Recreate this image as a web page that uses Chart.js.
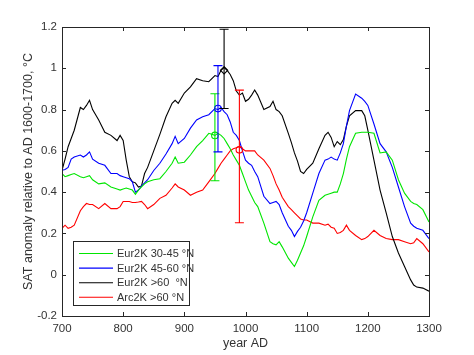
<!DOCTYPE html>
<html>
<head>
<meta charset="utf-8">
<script src="https://cdn.jsdelivr.net/npm/chart.js@4/dist/chart.umd.min.js"></script>
<style>
  html, body { margin: 0; padding: 0; background: #fff; }
  #wrap { width: 474px; height: 355px; }
</style>
</head>
<body>
<div id="wrap"><canvas id="c" width="474" height="355"></canvas></div>
<script>
// ---- data ----
const years = [700,705,710,715,720,730,735,740,745,750,760,770,780,790,795,800,805,810,815,820,825,830,835,840,850,860,870,880,885,890,900,910,920,930,940,950,955,960,965,970,975,980,985,990,995,1000,1005,1010,1015,1020,1030,1040,1045,1050,1055,1060,1070,1075,1080,1085,1090,1095,1100,1110,1120,1130,1135,1140,1145,1150,1155,1160,1165,1170,1180,1190,1195,1200,1210,1220,1230,1240,1250,1260,1270,1275,1280,1290,1300];

const eurNorth = [0.506,0.56,0.62,0.66,0.70,0.81,0.80,0.82,0.845,0.80,0.75,0.69,0.675,0.65,0.675,0.65,0.555,0.475,0.45,0.445,0.425,0.43,0.49,0.52,0.60,0.68,0.765,0.83,0.845,0.83,0.88,0.91,0.95,0.94,0.935,0.965,0.96,0.99,1.005,0.99,0.97,0.94,0.89,0.87,0.88,0.84,0.85,0.87,0.895,0.87,0.80,0.815,0.84,0.80,0.79,0.77,0.685,0.64,0.59,0.55,0.50,0.49,0.51,0.54,0.61,0.675,0.69,0.665,0.62,0.645,0.63,0.655,0.72,0.77,0.795,0.795,0.77,0.70,0.555,0.41,0.30,0.185,0.105,0.04,-0.025,-0.05,-0.06,-0.065,-0.08];

const eurMid = [0.506,0.51,0.52,0.56,0.57,0.58,0.57,0.58,0.595,0.56,0.54,0.53,0.49,0.49,0.48,0.475,0.47,0.465,0.45,0.40,0.41,0.43,0.445,0.46,0.505,0.54,0.585,0.635,0.67,0.635,0.66,0.71,0.75,0.765,0.775,0.805,0.80,0.81,0.79,0.775,0.74,0.69,0.675,0.65,0.60,0.555,0.54,0.53,0.50,0.475,0.38,0.345,0.35,0.355,0.34,0.30,0.235,0.215,0.185,0.21,0.23,0.26,0.30,0.395,0.49,0.555,0.56,0.57,0.56,0.555,0.59,0.635,0.72,0.795,0.875,0.855,0.84,0.82,0.73,0.635,0.595,0.52,0.425,0.33,0.25,0.235,0.225,0.215,0.175];

const eurSouth = [0.49,0.475,0.48,0.485,0.49,0.475,0.47,0.475,0.48,0.46,0.44,0.445,0.425,0.415,0.41,0.415,0.42,0.415,0.41,0.39,0.41,0.425,0.44,0.45,0.46,0.465,0.50,0.54,0.57,0.54,0.545,0.58,0.62,0.65,0.685,0.675,0.685,0.675,0.66,0.635,0.61,0.58,0.555,0.53,0.49,0.45,0.41,0.38,0.35,0.33,0.25,0.16,0.15,0.145,0.16,0.135,0.08,0.06,0.04,0.07,0.105,0.14,0.185,0.28,0.36,0.385,0.39,0.395,0.40,0.40,0.44,0.49,0.56,0.62,0.685,0.69,0.69,0.69,0.685,0.59,0.595,0.555,0.46,0.395,0.355,0.345,0.34,0.315,0.255];

const arcNorth = [0.225,0.24,0.225,0.23,0.24,0.31,0.33,0.345,0.34,0.34,0.32,0.345,0.32,0.32,0.33,0.355,0.355,0.355,0.35,0.35,0.352,0.355,0.34,0.32,0.34,0.37,0.385,0.42,0.44,0.425,0.41,0.385,0.40,0.41,0.45,0.49,0.515,0.54,0.56,0.58,0.60,0.61,0.615,0.62,0.61,0.60,0.60,0.60,0.60,0.58,0.555,0.515,0.48,0.44,0.41,0.375,0.33,0.315,0.30,0.285,0.27,0.265,0.265,0.25,0.25,0.24,0.245,0.23,0.225,0.20,0.205,0.215,0.24,0.215,0.19,0.17,0.175,0.185,0.215,0.19,0.175,0.17,0.17,0.16,0.15,0.155,0.175,0.15,0.11];

const seriesLabels = ['Eur2K 30-45 °N', 'Eur2K 45-60 °N', 'Eur2K >60  °N', 'Arc2K >60 °N'];
const seriesColors = ['#00e600', '#0000ff', '#000000', '#ff0000'];

// error bars (year, central value, low, high) in the same series order
const errYear = [950, 955, 965, 990];
const errMid  = [0.675, 0.805, 0.99, 0.605];
const errLow  = [0.455, 0.595, 0.805, 0.252];
const errHigh = [0.877, 1.013, 1.189, 0.894];

const xTicks = [700, 800, 900, 1000, 1100, 1200, 1300];
const yTicks = [-0.2, 0, 0.2, 0.4, 0.6, 0.8, 1, 1.2];

const axisColor = '#262626';
const textColor = '#333333';
const fontFamily = '"Liberation Sans", Arial, Helvetica, sans-serif';

function pts(vals) { return years.map((y, i) => ({ x: y, y: vals[i] })); }

const seriesValues = [eurSouth, eurMid, eurNorth, arcNorth];

const datasets = seriesValues.map((v, i) => ({
  label: seriesLabels[i],
  data: pts(v),
  borderColor: seriesColors[i],
  borderWidth: 1.1,
  pointRadius: 0,
  tension: 0,
  fill: false
}));
const order = [3, 2, 1, 0];

const boxPlugin = {
  id: 'matlabBox',
  afterDraw(chart) {
    const { ctx, chartArea: a, scales } = chart;
    ctx.save();
    ctx.strokeStyle = axisColor;
    ctx.lineWidth = 1;
    ctx.strokeRect(Math.round(a.left) + 0.5, Math.round(a.top) + 0.5, Math.round(a.right - a.left), Math.round(a.bottom - a.top));
    const tl = 4;
    ctx.beginPath();
    xTicks.forEach(t => {
      const px = Math.round(scales.x.getPixelForValue(t)) + 0.5;
      ctx.moveTo(px, a.bottom); ctx.lineTo(px, a.bottom - tl);
      ctx.moveTo(px, a.top); ctx.lineTo(px, a.top + tl);
    });
    yTicks.forEach(t => {
      const py = Math.round(scales.y.getPixelForValue(t)) + 0.5;
      ctx.moveTo(a.left, py); ctx.lineTo(a.left + tl, py);
      ctx.moveTo(a.right, py); ctx.lineTo(a.right - tl, py);
    });
    ctx.stroke();

    // error bars
    const cap = 4.5;
    errYear.forEach((yr, i) => {
      const px = scales.x.getPixelForValue(yr);
      const pLo = scales.y.getPixelForValue(errLow[i]);
      const pHi = scales.y.getPixelForValue(errHigh[i]);
      const pM = scales.y.getPixelForValue(errMid[i]);
      ctx.strokeStyle = seriesColors[i];
      ctx.lineWidth = 1.1;
      ctx.beginPath();
      ctx.moveTo(px, pLo); ctx.lineTo(px, pHi);
      ctx.moveTo(px - cap, pLo); ctx.lineTo(px + cap, pLo);
      ctx.moveTo(px - cap, pHi); ctx.lineTo(px + cap, pHi);
      ctx.stroke();
      ctx.beginPath();
      if (i === 2) {
        const r = 3.6;
        ctx.moveTo(px, pM - r); ctx.lineTo(px + r, pM); ctx.lineTo(px, pM + r); ctx.lineTo(px - r, pM); ctx.closePath();
      } else {
        ctx.arc(px, pM, 3.3, 0, Math.PI * 2);
      }
      ctx.stroke();
    });

    // legend box
    const lx = a.left + 11, ly = 241, lw = 116, lh = 64;
    ctx.fillStyle = '#fff';
    ctx.fillRect(lx, ly, lw, lh);
    ctx.strokeStyle = axisColor;
    ctx.lineWidth = 1;
    ctx.strokeRect(Math.round(lx) + 0.5, ly + 0.5, lw, lh);
    ctx.font = '11px ' + fontFamily;
    ctx.textBaseline = 'middle';
    seriesLabels.forEach((lab, i) => {
      const ry = ly + 12.5 + i * 14.6;
      ctx.strokeStyle = seriesColors[i];
      ctx.lineWidth = 1.1;
      ctx.beginPath();
      ctx.moveTo(lx + 6, ry); ctx.lineTo(lx + 40, ry);
      ctx.stroke();
      ctx.fillStyle = textColor;
      ctx.fillText(lab, lx + 44, ry + 0.5);
    });
    ctx.restore();
  }
};

new Chart(document.getElementById('c'), {
  type: 'line',
  data: { datasets: order.map(i => Object.assign({ order: i }, datasets[i])) },
  options: {
    responsive: false,
    animation: false,
    devicePixelRatio: 1,
    layout: { padding: { left: 17, right: 45, top: 27, bottom: 0 } },
    plugins: { legend: { display: false }, tooltip: { enabled: false } },
    scales: {
      x: {
        type: 'linear', min: 700, max: 1300,
        afterBuildTicks: s => { s.ticks = xTicks.map(v => ({ value: v })); },
        afterFit: s => { s.height = 39; },
        grid: { display: true, drawOnChartArea: false, drawTicks: false },
        border: { display: true, color: axisColor, width: 1 },
        ticks: { color: textColor, padding: 6, maxRotation: 0, font: { size: 11.5, family: fontFamily }, callback: v => String(v) },
        title: { display: true, text: 'year AD', color: textColor, font: { size: 12.5, family: fontFamily }, padding: { top: 0, bottom: 4 } }
      },
      y: {
        type: 'linear', min: -0.2, max: 1.2,
        afterBuildTicks: s => { s.ticks = yTicks.map(v => ({ value: v })); },
        afterFit: s => { s.width = 45; },
        grid: { display: true, drawOnChartArea: false, drawTicks: false },
        border: { display: true, color: axisColor, width: 1 },
        ticks: { color: textColor, padding: 5, font: { size: 11.5, family: fontFamily }, callback: v => String(+Number(v).toFixed(1)) },
        title: { display: true, text: 'SAT anomaly relative to AD 1600-1700, °C', color: textColor, font: { size: 12.5, family: fontFamily }, padding: { top: 4, bottom: 0 } }
      }
    }
  },
  plugins: [boxPlugin]
});
</script>
</body>
</html>
